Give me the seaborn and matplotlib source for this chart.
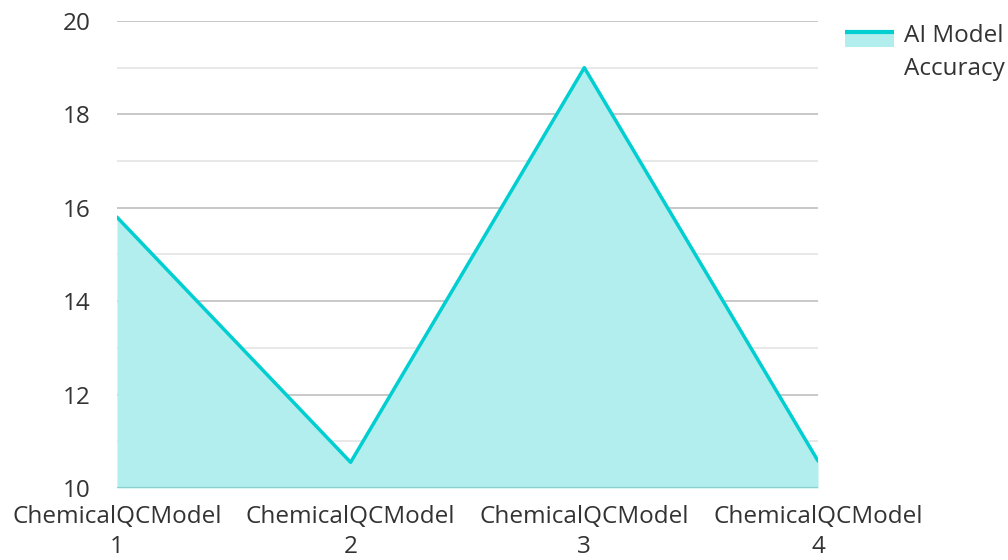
import pandas as pd
import matplotlib.pyplot as plt
import seaborn as sns
from matplotlib.lines import Line2D
from matplotlib.patches import Rectangle
from matplotlib.ticker import MultipleLocator

models = ['ChemicalQCModel\n1', 'ChemicalQCModel\n2', 'ChemicalQCModel\n3', 'ChemicalQCModel\n4']
accuracy = [15.8, 10.55, 19.0, 10.58]

LINE_COLOR = '#00CED1'
FILL_COLOR = '#B2EEEE'


class AreaHandler:
    # legend key: thin filled box with the line on its top edge, level with the first text line
    def legend_artist(self, legend, orig_handle, fontsize, handlebox):
        x0, y0 = handlebox.xdescent, handlebox.ydescent
        w, h = handlebox.width, handlebox.height
        y0 = y0 + 0.55 * fontsize
        rect = Rectangle((x0, y0), w, h * 0.8, facecolor=FILL_COLOR, edgecolor='none',
                         transform=handlebox.get_transform())
        line = Line2D([x0, x0 + w], [y0 + h * 0.8, y0 + h * 0.8], color=LINE_COLOR, lw=3,
                      solid_capstyle='butt', transform=handlebox.get_transform())
        handlebox.add_artist(rect)
        handlebox.add_artist(line)
        return rect


def main():
    sns.set_style('white')
    plt.rcParams['font.family'] = ['Open Sans', 'DejaVu Sans']

    df = pd.DataFrame({'model': models, 'accuracy': accuracy})

    fig = plt.figure(figsize=(10.08, 5.6), dpi=100)
    ax = fig.add_axes([0.116, 0.1286, 0.6955, 0.834])

    pos = list(range(len(models)))
    ax.fill_between(pos, df['accuracy'], 10, color=FILL_COLOR, alpha=1.0, zorder=2, linewidth=0)
    sns.lineplot(x='model', y='accuracy', data=df, ax=ax, color=LINE_COLOR, linewidth=2.5,
                 sort=False, zorder=3)

    ax.set_xlim(0, len(models) - 1)
    ax.set_ylim(10, 20)
    ax.yaxis.set_major_locator(MultipleLocator(2))
    ax.yaxis.set_minor_locator(MultipleLocator(1))
    ax.grid(True, which='major', axis='y', color='#c4c4c4', linewidth=1.3, zorder=1)
    ax.grid(True, which='minor', axis='y', color='#e4e4e4', linewidth=1.2, zorder=1)
    ax.grid(False, axis='x')
    ax.axhline(10, color='#8ccfcf', linewidth=1.6, zorder=4)
    for s in ax.spines.values():
        s.set_visible(False)

    ax.set_xticks(pos)
    ax.set_xticklabels(models, linespacing=1.35)
    ax.tick_params(axis='both', which='both', length=0, labelsize=17.5, colors='#333333')
    ax.tick_params(axis='y', pad=19)
    ax.tick_params(axis='x', pad=12)
    ax.set_xlabel('')
    ax.set_ylabel('')

    handle = Rectangle((0, 0), 1, 1)
    leg = ax.legend([handle], ['AI Model\nAccuracy'], handler_map={Rectangle: AreaHandler()},
                    loc='upper left', bbox_to_anchor=(1.032, 1.003), frameon=False, fontsize=17.5,
                    handlelength=2.0, handleheight=0.8, handletextpad=0.4, labelcolor='#333333',
                    borderaxespad=0.0, borderpad=0.2)
    leg.get_texts()[0].set_linespacing(1.45)

    fig.savefig('out.png', dpi=100)
    plt.close(fig)


if __name__ == '__main__':
    main()
